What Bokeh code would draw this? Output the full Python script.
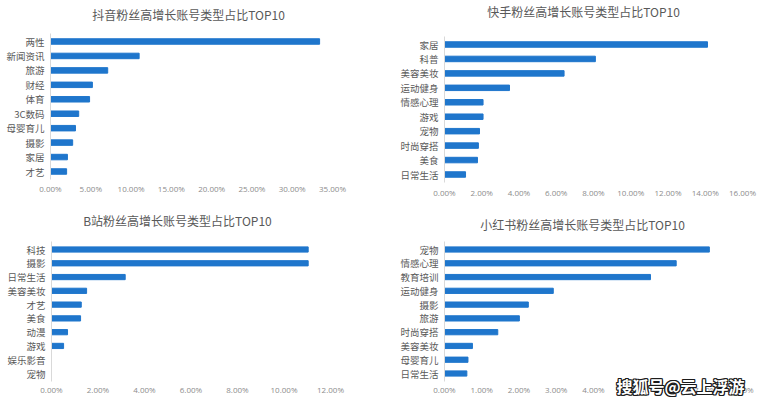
from bokeh.plotting import figure
from bokeh.models import Range1d, FixedTicker, PrintfTickFormatter, Label
from bokeh.layouts import column, row
from bokeh.embed import file_html
from bokeh.resources import INLINE

# ---- data ----
douyin_title = "抖音粉丝高增长账号类型占比TOP10"
douyin_cats = ["两性", "新闻资讯", "旅游", "财经", "体育", "3C数码", "母婴育儿", "摄影", "家居", "才艺"]
douyin_vals = [33.4, 11.0, 7.1, 5.2, 4.85, 3.5, 3.1, 2.75, 2.1, 2.0]
douyin_ticks = [0, 5, 10, 15, 20, 25, 30, 35]

kuaishou_title = "快手粉丝高增长账号类型占比TOP10"
kuaishou_cats = ["家居", "科普", "美容美妆", "运动健身", "情感心理", "游戏", "宠物", "时尚穿搭", "美食", "日常生活"]
kuaishou_vals = [14.12, 8.1, 6.42, 3.49, 2.07, 2.07, 1.88, 1.82, 1.77, 1.13]
kuaishou_ticks = [0, 2, 4, 6, 8, 10, 12, 14, 16]

bili_title = "B站粉丝高增长账号类型占比TOP10"
bili_cats = ["科技", "摄影", "日常生活", "美容美妆", "才艺", "美食", "动漫", "游戏", "娱乐影音", "宠物"]
bili_vals = [11.04, 11.04, 3.17, 1.51, 1.28, 1.25, 0.69, 0.52, 0.0, 0.0]
bili_ticks = [0, 2, 4, 6, 8, 10, 12]

xhs_title = "小红书粉丝高增长账号类型占比TOP10"
xhs_cats = ["宠物", "情感心理", "教育培训", "运动健身", "摄影", "旅游", "时尚穿搭", "美容美妆", "母婴育儿", "日常生活"]
xhs_vals = [7.11, 6.22, 5.53, 2.92, 2.25, 2.01, 1.43, 0.75, 0.63, 0.6]
xhs_ticks = [0, 1, 2, 3, 4, 5, 6, 7, 8]

watermark = "搜狐号@云上浮游"

BAR = "#1f76cc"
CJK = "Noto Sans CJK SC"


def make_panel(title, cats, vals, ticks, W, H, left, right,
               y_first, y_last, title_cx, title_cy, tick_cy):
    """Frame spans the whole canvas; axes are pinned with fixed_location.
    left/right = pixel gap before 0 / after max; y_first / y_last = pixel
    centres of first / last bar."""
    n = len(cats)
    ys = [n - 1 - i for i in range(n)]
    s = (y_last - y_first) / (n - 1)          # pixels per category
    yhi = (n - 1) + y_first / s
    ylo = -(H - y_last) / s
    x0, x1 = ticks[0], ticks[-1]
    u = (x1 - x0) / (W - left - right)        # data units per pixel
    xlo = x0 - left * u
    xhi = x1 + right * u

    p = figure(width=W, height=H, output_backend="svg", toolbar_location=None,
               x_range=Range1d(xlo, xhi), y_range=Range1d(ylo, yhi),
               min_border_left=0, min_border_right=0,
               min_border_top=0, min_border_bottom=0)
    p.title.visible = False
    p.hbar(y=ys, right=vals, left=0, height=0.38, color=BAR)
    p.outline_line_color = None
    p.grid.visible = False

    ya = p.yaxis[0]
    ya.fixed_location = x0
    ya.ticker = FixedTicker(ticks=ys)
    ya.major_label_overrides = {y: c for y, c in zip(ys, cats)}
    ya.bounds = (-0.55, n - 1 + 0.55)
    ya.axis_line_color = "#d9d9d9"
    ya.major_tick_line_color = None
    ya.minor_tick_line_color = None
    ya.major_label_text_font = CJK
    ya.major_label_text_font_size = "9.5px"
    ya.major_label_text_color = "#595959"
    ya.major_label_standoff = 6
    ya.major_tick_out = 0
    ya.major_tick_in = 0

    xa = p.xaxis[0]
    xa.fixed_location = -0.5
    xa.axis_line_color = None
    xa.major_tick_line_color = None
    xa.minor_tick_line_color = None
    xa.major_tick_out = 0
    xa.major_tick_in = 0
    xa.ticker = FixedTicker(ticks=ticks)
    xa.formatter = PrintfTickFormatter(format="%.2f%%")
    xa.major_label_text_font = "Open Sans"
    xa.major_label_text_font_size = "8px"
    xa.major_label_text_color = "#8c8c8c"
    axis_px = y_last + s / 2
    xa.major_label_standoff = max(0, int(round(tick_cy - axis_px - 5)))

    fx = lambda px: xlo + px * u
    fy = lambda py: (n - 1) - (py - y_first) / s

    # chart title
    p.add_layout(Label(x=fx(title_cx), y=fy(title_cy),
                       text=title, text_font=CJK, text_font_size="12px",
                       text_color="#595959", text_align="center", text_baseline="middle"))
    return p, fx, fy


p1, _, _ = make_panel(douyin_title, douyin_cats, douyin_vals, douyin_ticks,
                      380, 200, 50, 48, 41, 171, 188, 14, 187)
p2, _, _ = make_panel(kuaishou_title, kuaishou_cats, kuaishou_vals, kuaishou_ticks,
                      377, 200, 64, 15, 44, 174, 203, 11, 191)
p3, _, _ = make_panel(bili_title, bili_cats, bili_vals, bili_ticks,
                      380, 203, 51, 50, 49, 173, 177, 20, 189)
p4, fx, fy = make_panel(xhs_title, xhs_cats, xhs_vals, xhs_ticks,
                        377, 203, 64, 15, 49, 173, 202, 24, 189)

# watermark (white bold text with dark outline), bottom-right corner
wx, wy = fx(300), fy(185)
for dx, dy in [(-1, -1), (1, -1), (-1, 1), (1, 1), (0, 1), (0, -1), (1, 0), (-1, 0)]:
    p4.add_layout(Label(x=wx, y=wy, x_offset=dx, y_offset=dy, text=watermark,
                        text_font=CJK, text_font_size="16px", text_font_style="bold",
                        text_color="#1a1a1a", text_align="center", text_baseline="middle"))
p4.add_layout(Label(x=wx, y=wy, text=watermark,
                    text_font=CJK, text_font_size="16px", text_font_style="bold",
                    text_color="white", text_align="center", text_baseline="middle"))

layout = column(row(p1, p2), row(p3, p4))
open("out.html", "w").write(file_html(layout, INLINE))
